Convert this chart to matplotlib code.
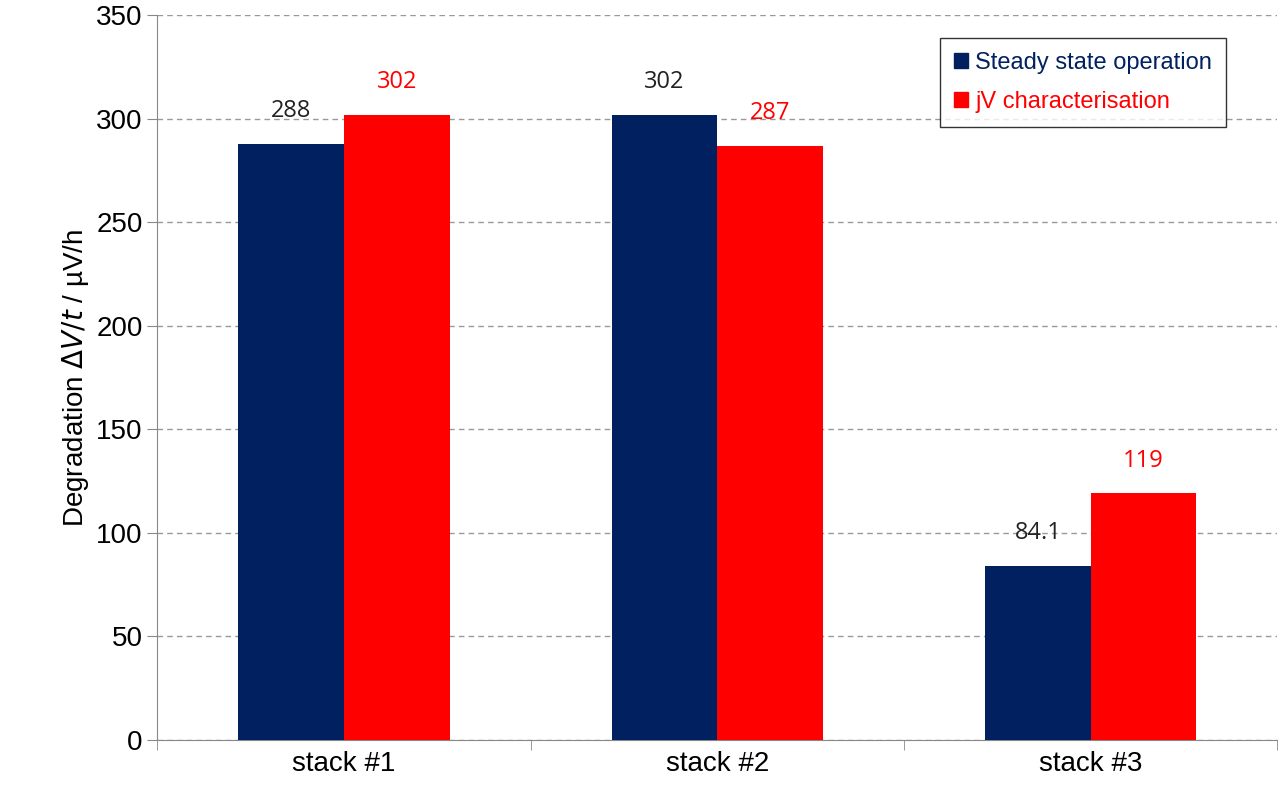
import matplotlib
matplotlib.use("Agg")
import matplotlib.pyplot as plt
import numpy as np
from matplotlib.patches import Patch

categories = ["stack #1", "stack #2", "stack #3"]
steady = [288, 302, 84.1]
jv = [302, 287, 119]
steady_labels = ["288", "302", "84.1"]
jv_labels = ["302", "287", "119"]

plt.rcParams['font.family'] = ['Liberation Sans', 'DejaVu Sans']
fig = plt.figure(figsize=(12.8, 7.99), dpi=100)
ax = fig.add_axes([0.123, 0.074, 0.875, 0.907])
navy = "#002060"
red = "#FF0000"
x = np.arange(len(categories))
w = 0.283
b1 = ax.bar(x - w/2, steady, w, color=navy, zorder=3)
b2 = ax.bar(x + w/2, jv, w, color=red, zorder=3)
for xi, v, t in zip(x, steady, steady_labels):
    ax.text(xi - w/2, v + 10, t, ha='center', va='bottom', fontsize=17, color='#222222', family='Open Sans')
for xi, v, t in zip(x, jv, jv_labels):
    ax.text(xi + w/2, v + 10, t, ha='center', va='bottom', fontsize=17, color=red, family='Open Sans')

ax.set_xlim(-0.5, 2.5)
ax.set_ylim(0, 350)
ax.set_yticks(range(0, 351, 50))
ax.yaxis.grid(True, linestyle=(0, (4, 3)), color='#999999', linewidth=1, zorder=0)
ax.set_xticks(x)
ax.set_xticklabels(categories, fontsize=20)
ax.set_xticks([-0.5, 0.5, 1.5, 2.5], minor=True)
ax.tick_params(axis='x', which='major', length=0, pad=8)
ax.tick_params(axis='x', which='minor', length=7, color='#888888')
ax.tick_params(axis='y', labelsize=20, length=7, color='#888888', direction='out')
for s in ['top', 'right']:
    ax.spines[s].set_visible(False)
for s in ['left', 'bottom']:
    ax.spines[s].set_color('#888888')
ax.set_ylabel(r'Degradation $\mathit{\Delta V/t}$ / µV/h', fontsize=20)

handles = [Patch(color=navy), Patch(color=red)]
leg = ax.legend(handles, ["Steady state operation", "jV characterisation"], loc='upper right',
                bbox_to_anchor=(0.965, 0.985), fontsize=17, frameon=True, fancybox=False,
                edgecolor='black', handlelength=0.6, handleheight=0.6, handletextpad=0.3,
                labelspacing=0.7, borderpad=0.6)
leg.get_frame().set_linewidth(1)
leg.texts[0].set_color(navy)
leg.texts[1].set_color(red)
fig.savefig("out.png", dpi=100)
